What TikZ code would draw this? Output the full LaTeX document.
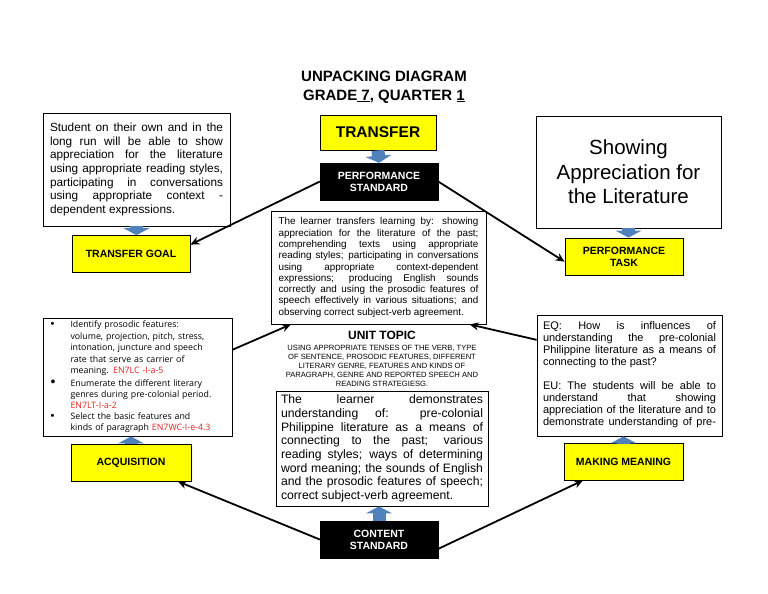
\documentclass[tikz,border=0pt]{standalone}
\usepackage{fontspec}
\setmainfont{Liberation Sans}
\newfontfamily\bulletfont{Open Sans}
\usetikzlibrary{arrows.meta}
\definecolor{boxyellow}{RGB}{255,255,0}
\definecolor{arrowblue}{RGB}{79,129,189}
\definecolor{codered}{RGB}{225,30,30}
\newcommand{\code}[1]{\textcolor{codered}{#1}}
\newcommand{\bulletitem}[2][\fontsize{11}{11}]{\noindent\makebox[22pt][l]{\hspace{2pt}{\rmfamily#1\selectfont\textbullet}}\parbox[t]{156pt}{\raggedright #2}\par\vspace{2.6pt}}
\tolerance=9999 \hyphenpenalty=10000 \exhyphenpenalty=10000

\tikzset{
    yellowbox/.style={draw, line width=0.8pt, fill=boxyellow, minimum width=118pt, minimum height=37pt, inner sep=2pt, align=center, font=\fontsize{10.5}{12}\selectfont\bfseries},
    blackbox/.style={draw, fill=black, text=white, minimum width=118pt, minimum height=37pt, inner sep=2pt, align=center, font=\fontsize{10.5}{12}\selectfont\bfseries},
    textbox/.style={draw, line width=0.8pt, inner ysep=3pt, align=justify},
    link/.style={line width=1.8pt, -{Stealth[length=9pt,width=8pt]}},
    blockarrow/.style={line width=13pt, arrowblue, -{Triangle[width=26pt,length=7pt]}},
}

\begin{document}
\begin{tikzpicture}[x=1pt,y=-1pt]
    \useasboundingbox (0,0) rectangle (768,594);
    % title
    \node[font=\fontsize{15}{19}\selectfont\bfseries, align=center] (title) at (384,87) {UNPACKING DIAGRAM\\GRADE\underline{ 7}, QUARTER \underline{1}};
    % top row
    \node[yellowbox, minimum width=116pt, minimum height=35pt, font=\fontsize{15.5}{18}\selectfont\bfseries] (transfer) at (378,132.5) {TRANSFER};
    \node[blackbox] (ps) at (379,181.5) {PERFORMANCE\\STANDARD};
    \node[textbox, text width=173pt, inner xsep=7pt, minimum height=113pt, font=\fontsize{11.8}{13.7}\selectfont] (goaltext) at (136.5,169.5) {Student on their own and in the\linebreak long run will be able to show\linebreak appreciation for the literature\linebreak using appropriate reading styles,\linebreak participating in conversations\linebreak using appropriate context -\linebreak dependent expressions.};
    \node[yellowbox] (goal) at (131,254) {TRANSFER GOAL};
    \node[textbox, minimum width=185pt, minimum height=112pt, align=center, font=\fontsize{20.5}{24.5}\selectfont] (showing) at (628.5,172) {Showing\\Appreciation for\\the Literature};
    \node[yellowbox] (task) at (624,256.5) {PERFORMANCE\\TASK};
    % middle
    \node[textbox, text width=200pt, inner xsep=7.5pt, minimum height=113pt, font=\fontsize{9.9}{11.3}\selectfont] (pstext) at (378.5,267.5) {The learner transfers learning by: showing\linebreak appreciation for the literature of the past;\linebreak comprehending texts using appropriate\linebreak reading styles; participating in conversations\linebreak using appropriate context-dependent\linebreak expressions; producing English sounds\linebreak correctly and using the prosodic features of\linebreak speech effectively in various situations; and\linebreak observing correct subject-verb agreement.};
    \node[draw, line width=0.8pt, text width=178pt, inner xsep=5.5pt, minimum height=118pt, font=\bulletfont\fontsize{8.8}{11.4}\selectfont] (acqtext) at (137.5,377) {%
        \bulletitem{Identify prosodic features:\\ volume, projection, pitch, stress,\\ intonation, juncture and speech\\ rate that serve as carrier of\\ meaning. \code{EN7LC -I-a-5}}
        \bulletitem[\fontsize{14}{11}]{Enumerate the different literary\\ genres during pre-colonial period.\\ \code{EN7LT-I-a-2}}
        \bulletitem{Select the basic features and\\ kinds of paragraph \code{EN7WC-I-e-4.3}}};
    \node[yellowbox, minimum width=120pt] (acq) at (131,462.5) {ACQUISITION};
    \node[draw, line width=0.8pt, minimum width=185pt, minimum height=121pt] (eqtext) at (629.5,375.5) {};
    \begin{scope}
        \clip (eqtext.north west) rectangle (eqtext.south east);
        \node[anchor=north, text width=173pt, inner sep=0pt, align=justify, font=\fontsize{11}{12}\selectfont] (eqbody) at ([yshift=-6.5pt]eqtext.north) {EQ: How is influences of\linebreak understanding the pre-colonial\linebreak Philippine literature as a means of\linebreak connecting to the past?\par\mbox{}\par
            EU: The students will be able to\linebreak understand that showing\linebreak appreciation of the literature and to\linebreak demonstrate understanding of pre-\parfillskip=0pt\par};
    \end{scope}
    \node[yellowbox, minimum width=119pt] (meaning) at (623.5,461.5) {MAKING MEANING};
    % unit topic
    \node[font=\fontsize{12}{14}\selectfont\bfseries] (unittitle) at (382,335) {UNIT TOPIC};
    \node[align=center, font=\fontsize{7.6}{9}\selectfont] (unittext) at (382,365.5) {USING APPROPRIATE TENSES OF THE VERB, TYPE\\OF SENTENCE, PROSODIC FEATURES, DIFFERENT\\LITERARY GENRE, FEATURES AND KINDS OF\\PARAGRAPH, GENRE AND REPORTED SPEECH AND\\READING STRATEGIESG.};
    % bottom
    \node[textbox, text width=202pt, inner xsep=5pt, minimum height=115pt, font=\fontsize{12.2}{13.7}\selectfont] (undtext) at (382,448.5) {The learner demonstrates\linebreak understanding of: pre-colonial\linebreak Philippine literature as a means of\linebreak connecting to the past; various\linebreak reading styles; ways of determining\linebreak word meaning; the sounds of English\linebreak and the prosodic features of speech;\linebreak correct subject-verb agreement.};
    \node[blackbox] (cs) at (379,539.5) {CONTENT\\STANDARD};
    % block arrows
    \draw[blockarrow] (transfer.south) -- (ps.north);
    \draw[blockarrow] (goaltext.south) -- (goaltext.south |- goal.north);
    \draw[blockarrow] (showing.south) -- (showing.south |- task.north);
    \draw[blockarrow] (acq.north) -- (acq.north |- acqtext.south);
    \draw[blockarrow] (meaning.north) -- (meaning.north |- eqtext.south);
    \draw[blockarrow] (cs.north) -- (cs.north |- undtext.south);
    % links
    \draw[link] (ps.west) -- (goal.9);
    \draw[link] (ps.east) -- (task.185);
    \draw[link] (acqtext.16) -- (pstext.213);
    \draw[link] (eqtext.159) -- (pstext.328);
    \draw[link] (cs.west) -- (acq.-22);
    \draw[link] (cs.-9) -- (meaning.205);
\end{tikzpicture}
\end{document}
